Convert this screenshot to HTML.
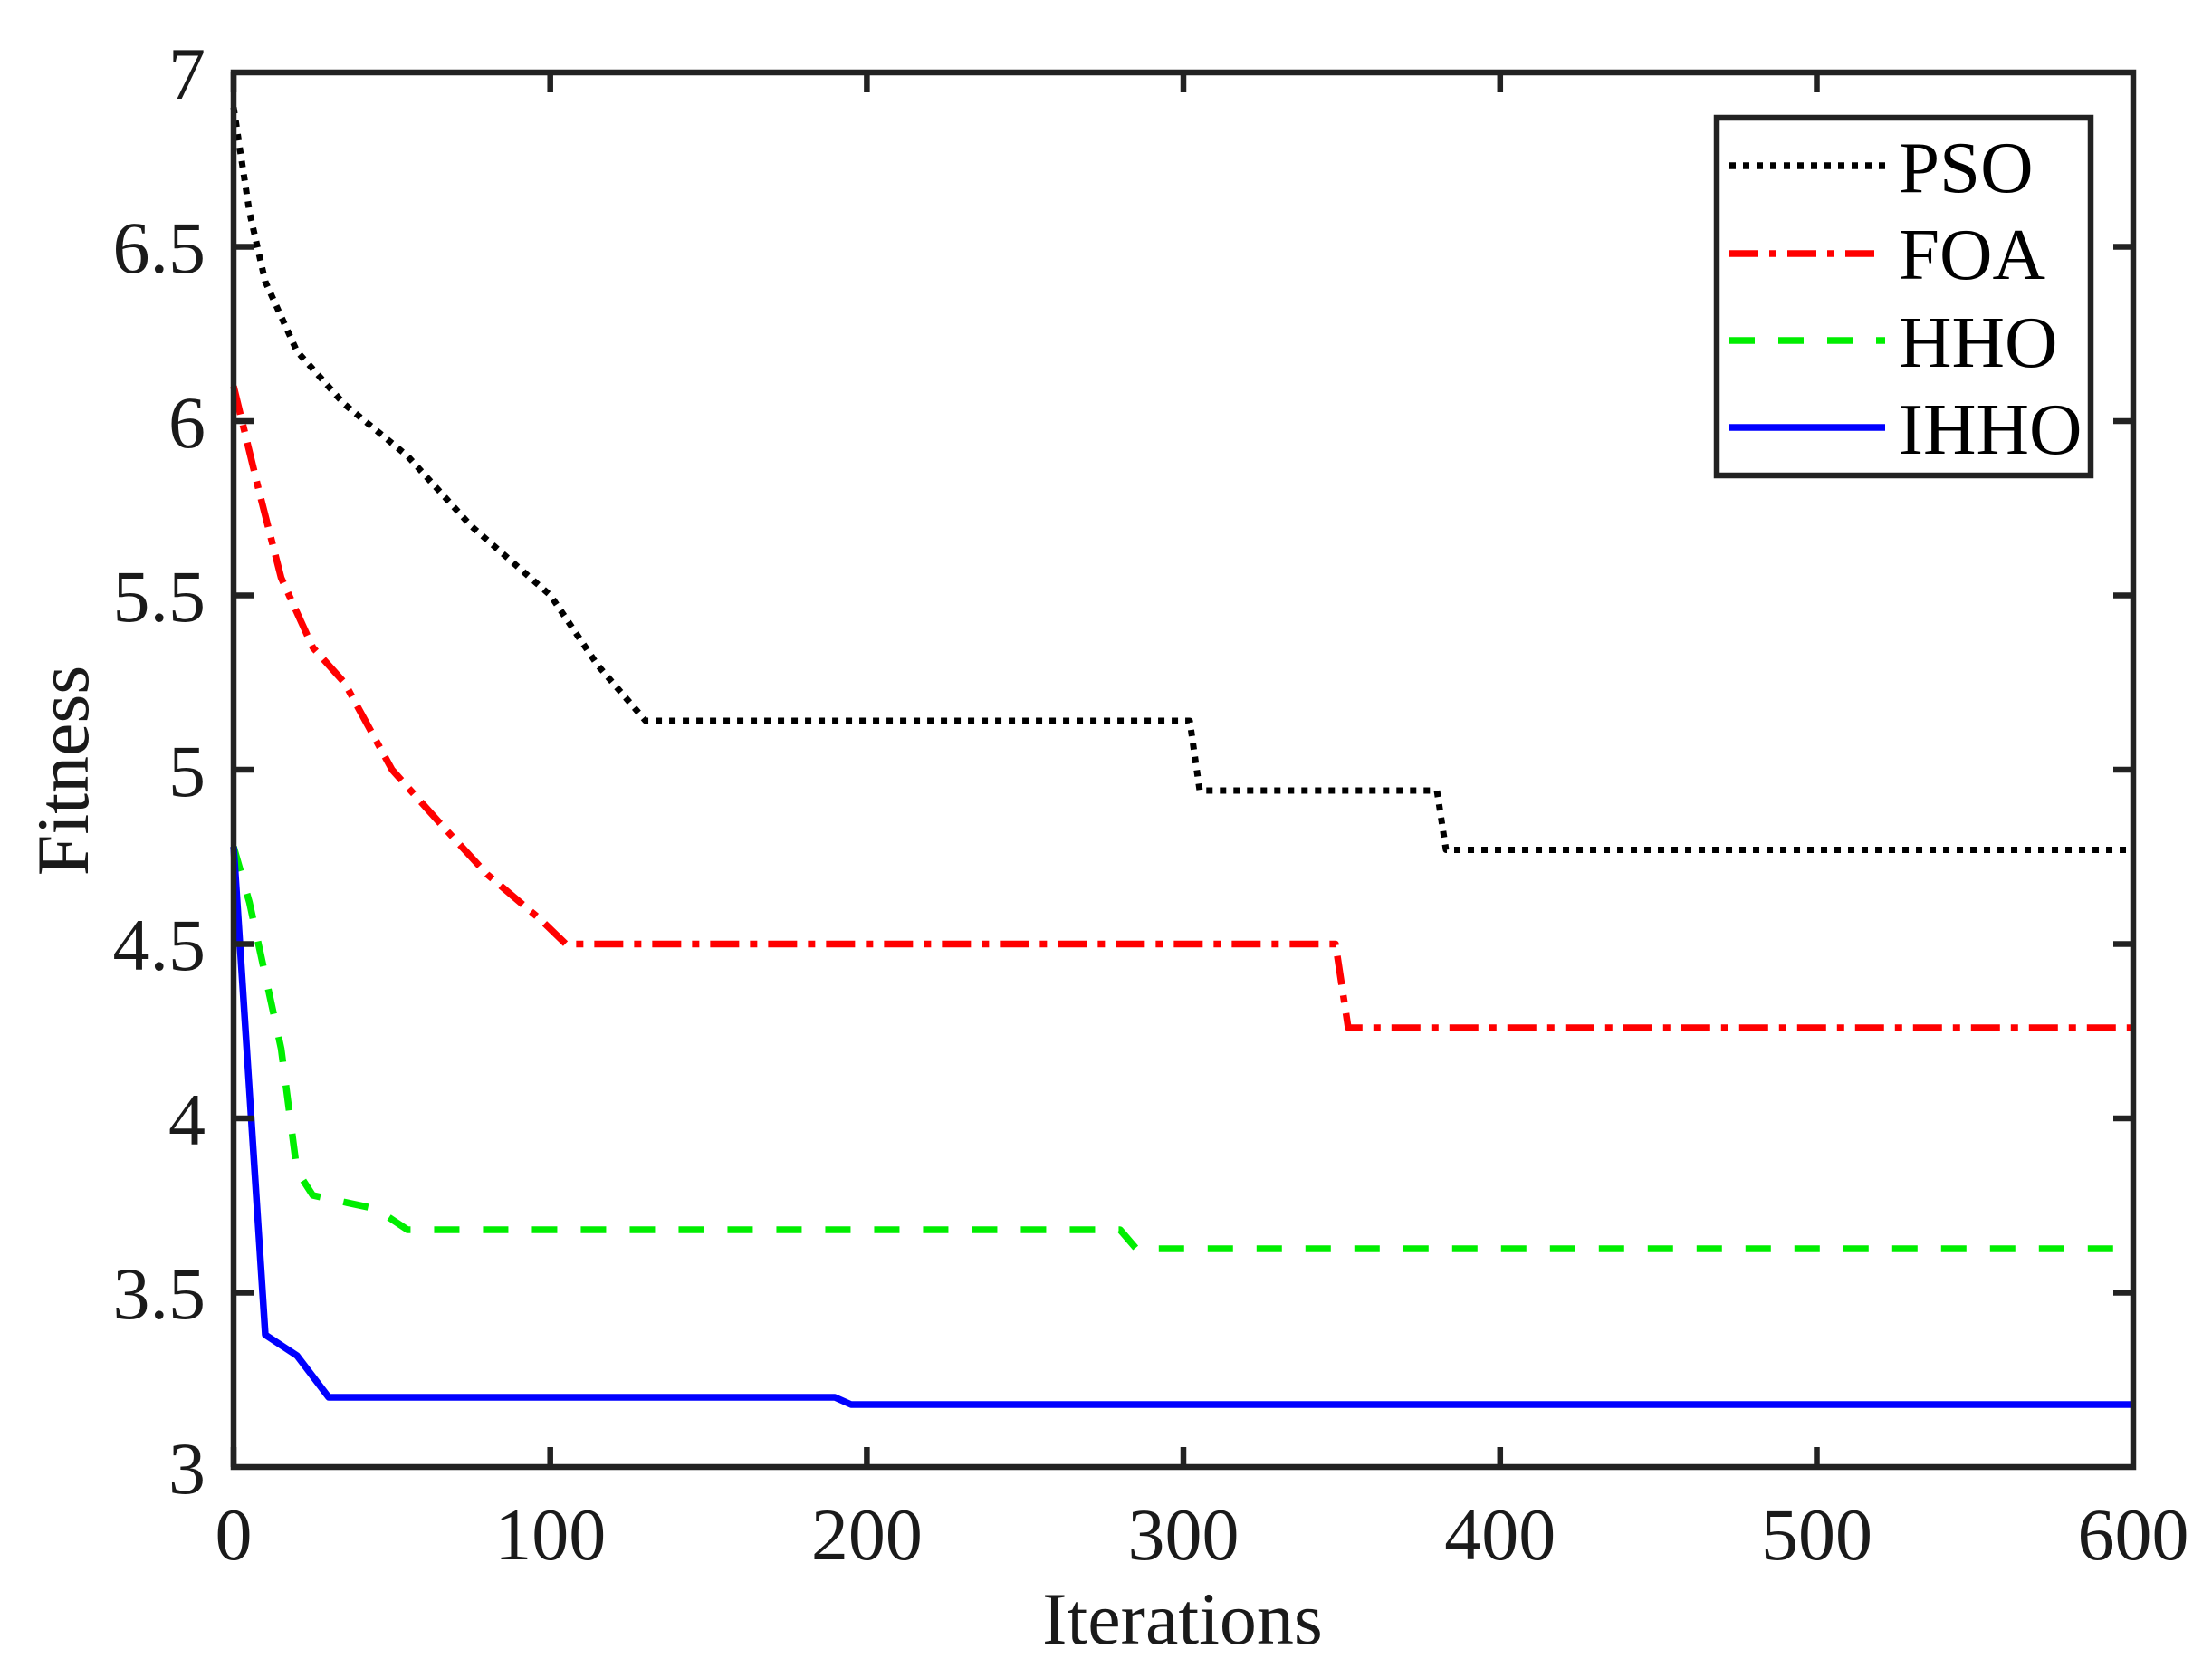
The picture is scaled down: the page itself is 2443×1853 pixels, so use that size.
<!DOCTYPE html>
<html><head><meta charset="utf-8"><style>html,body{margin:0;padding:0;background:#fff}svg{display:block}</style></head>
<body>
<svg width="2443" height="1853" viewBox="0 0 2443 1853" xmlns="http://www.w3.org/2000/svg" font-family="'Liberation Serif', serif">
<rect width="2443" height="1853" fill="#fff"/>
<g fill="none" stroke-linejoin="round">
<polyline stroke="#000" stroke-width="7" stroke-dasharray="7 8" points="258,118.5 275.5,234 293,311 328,388 380,446 450,503.5 520,580.5 608,657.5 660,734.5 713,796 1314,796 1325,873 1587,873 1597,938.5 2356,938.5"/>
<polyline stroke="#ff0000" stroke-width="7.5" stroke-dasharray="32 12 8 12" points="258,426.5 286,542 310.5,638 345.5,715 380.5,754 433,850 485,908 538,965.5 597,1015.5 625,1042.5 1475,1042.5 1489,1135 2356,1135"/>
<polyline stroke="#00ee00" stroke-width="7.5" stroke-dasharray="28 26" points="258,935 275.5,996.5 310.5,1158 328,1293 345.5,1320 415.5,1335 450,1358 1237,1358 1255,1379 2356,1379"/>
<polyline stroke="#0000ff" stroke-width="7.5" points="258,935 293,1474 328,1497 363,1543 922,1543 940,1551 2356,1551"/>
</g>
<g stroke="#222" stroke-width="6.5" fill="none">
<rect x="258" y="80" width="2098" height="1540"/>
<path d="M258,80v22M607.7,80v22M957.4,80v22M1307,80v22M1656.8,80v22M2006.5,80v22
M258,1620v-22M607.7,1620v-22M957.4,1620v-22M1307,1620v-22M1656.8,1620v-22M2006.5,1620v-22
M258,1427.5h22M258,1235h22M258,1042.5h22M258,850h22M258,657.5h22M258,465h22M258,272.5h22
M2356,1427.5h-22M2356,1235h-22M2356,1042.5h-22M2356,850h-22M2356,657.5h-22M2356,465h-22M2356,272.5h-22"/>
</g>
<g font-size="82" fill="#1a1a1a" text-anchor="end">
<text x="227" y="1649">3</text>
<text x="227" y="1456">3.5</text>
<text x="227" y="1264">4</text>
<text x="227" y="1071">4.5</text>
<text x="227" y="879">5</text>
<text x="227" y="686">5.5</text>
<text x="227" y="494">6</text>
<text x="227" y="301">6.5</text>
<text x="227" y="109">7</text>
</g>
<g font-size="82" fill="#1a1a1a" text-anchor="middle">
<text x="258" y="1722">0</text>
<text x="607.7" y="1722">100</text>
<text x="957.4" y="1722">200</text>
<text x="1307" y="1722">300</text>
<text x="1656.8" y="1722">400</text>
<text x="2006.5" y="1722">500</text>
<text x="2356" y="1722">600</text>
<text x="1306" y="1815">Iterations</text>
<text transform="translate(97,851) rotate(-90)">Fitness</text>
</g>
<rect x="1896" y="130" width="413" height="395" fill="#fff" stroke="#222" stroke-width="6.5"/>
<g stroke-width="7.5" fill="none">
<line x1="1910" y1="183" x2="2082" y2="183" stroke="#000" stroke-dasharray="7 8"/>
<line x1="1910" y1="280" x2="2082" y2="280" stroke="#ff0000" stroke-dasharray="32 12 8 12"/>
<line x1="1910" y1="376" x2="2082" y2="376" stroke="#00ee00" stroke-dasharray="28 26"/>
<line x1="1910" y1="472" x2="2082" y2="472" stroke="#0000ff"/>
</g>
<g font-size="81" fill="#000">
<text x="2097" y="212">PSO</text>
<text x="2097" y="308">FOA</text>
<text x="2097" y="405">HHO</text>
<text x="2097" y="501">IHHO</text>
</g>
</svg>
</body></html>
